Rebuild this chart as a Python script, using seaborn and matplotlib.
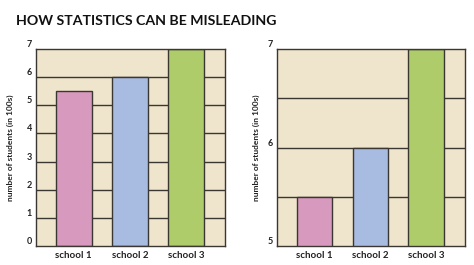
import pandas as pd
import matplotlib
matplotlib.use("Agg")
import matplotlib.pyplot as plt
import seaborn as sns

schools = ["school 1", "school 2", "school 3"]
students = [5.5, 6.0, 7.0]  # in 100s
bar_colors = ["#d79abe", "#a8bbe0", "#aecd6a"]

left_ticks = [0, 1, 2, 3, 4, 5, 6, 7]
right_ticks = [5, 6, 7]
right_grid = [5.5, 6, 6.5]

sns.set_theme(style="white")
plt.rcParams["font.family"] = ["Lato", "DejaVu Sans"]

df = pd.DataFrame({"school": schools, "students": students})

W, H = 474, 265
fig = plt.figure(figsize=(W / 100, H / 100), dpi=100)
ax1 = fig.add_axes([36 / W, 19 / H, 189 / W, 197 / H])
ax2 = fig.add_axes([277 / W, 19 / H, 188 / W, 197 / H])

BG = "#efe5cc"
EDGE = "#3a3632"


def draw(ax, ylim, ticks, grid):
    ax.set_facecolor(BG)
    for g in grid:
        ax.axhline(g, color=EDGE, lw=1.0, zorder=0.5)
    sns.barplot(data=df, x="school", y="students", hue="school",
                palette=bar_colors, saturation=1, width=0.64,
                edgecolor=EDGE, linewidth=1.0, legend=False, ax=ax, zorder=2)
    ax.set_xlim(-0.67, 2.69)
    ax.set_ylim(*ylim)
    ax.set_yticks(ticks)
    ax.set_yticklabels([str(t) for t in ticks], fontsize=6.5,
                       fontweight="bold", va="bottom", color="#222222")
    ax.tick_params(axis="y", length=0, pad=3)
    ax.tick_params(axis="x", length=0, pad=3.5, labelsize=7, colors="#222222")
    for lbl in ax.get_xticklabels():
        lbl.set_fontweight("bold")
    ax.set_xlabel("")
    ax.set_ylabel("number of students (in 100s)", fontsize=6,
                  fontweight="bold", color="#222222")
    for s in ax.spines.values():
        s.set_color(EDGE)
        s.set_linewidth(1.0)
        s.set_visible(True)


draw(ax1, (0, 7), left_ticks, left_ticks[1:-1])
draw(ax2, (5, 7), right_ticks, right_grid)
ax1.yaxis.set_label_coords(-22 / 189, 0.5)
ax2.yaxis.set_label_coords(-17 / 188, 0.5)

fig.text(16 / W, 1 - 25 / H, "HOW STATISTICS CAN BE MISLEADING",
         fontsize=10.2, fontweight="bold", color="#111111", va="baseline")

fig.savefig("out.png", dpi=100)
